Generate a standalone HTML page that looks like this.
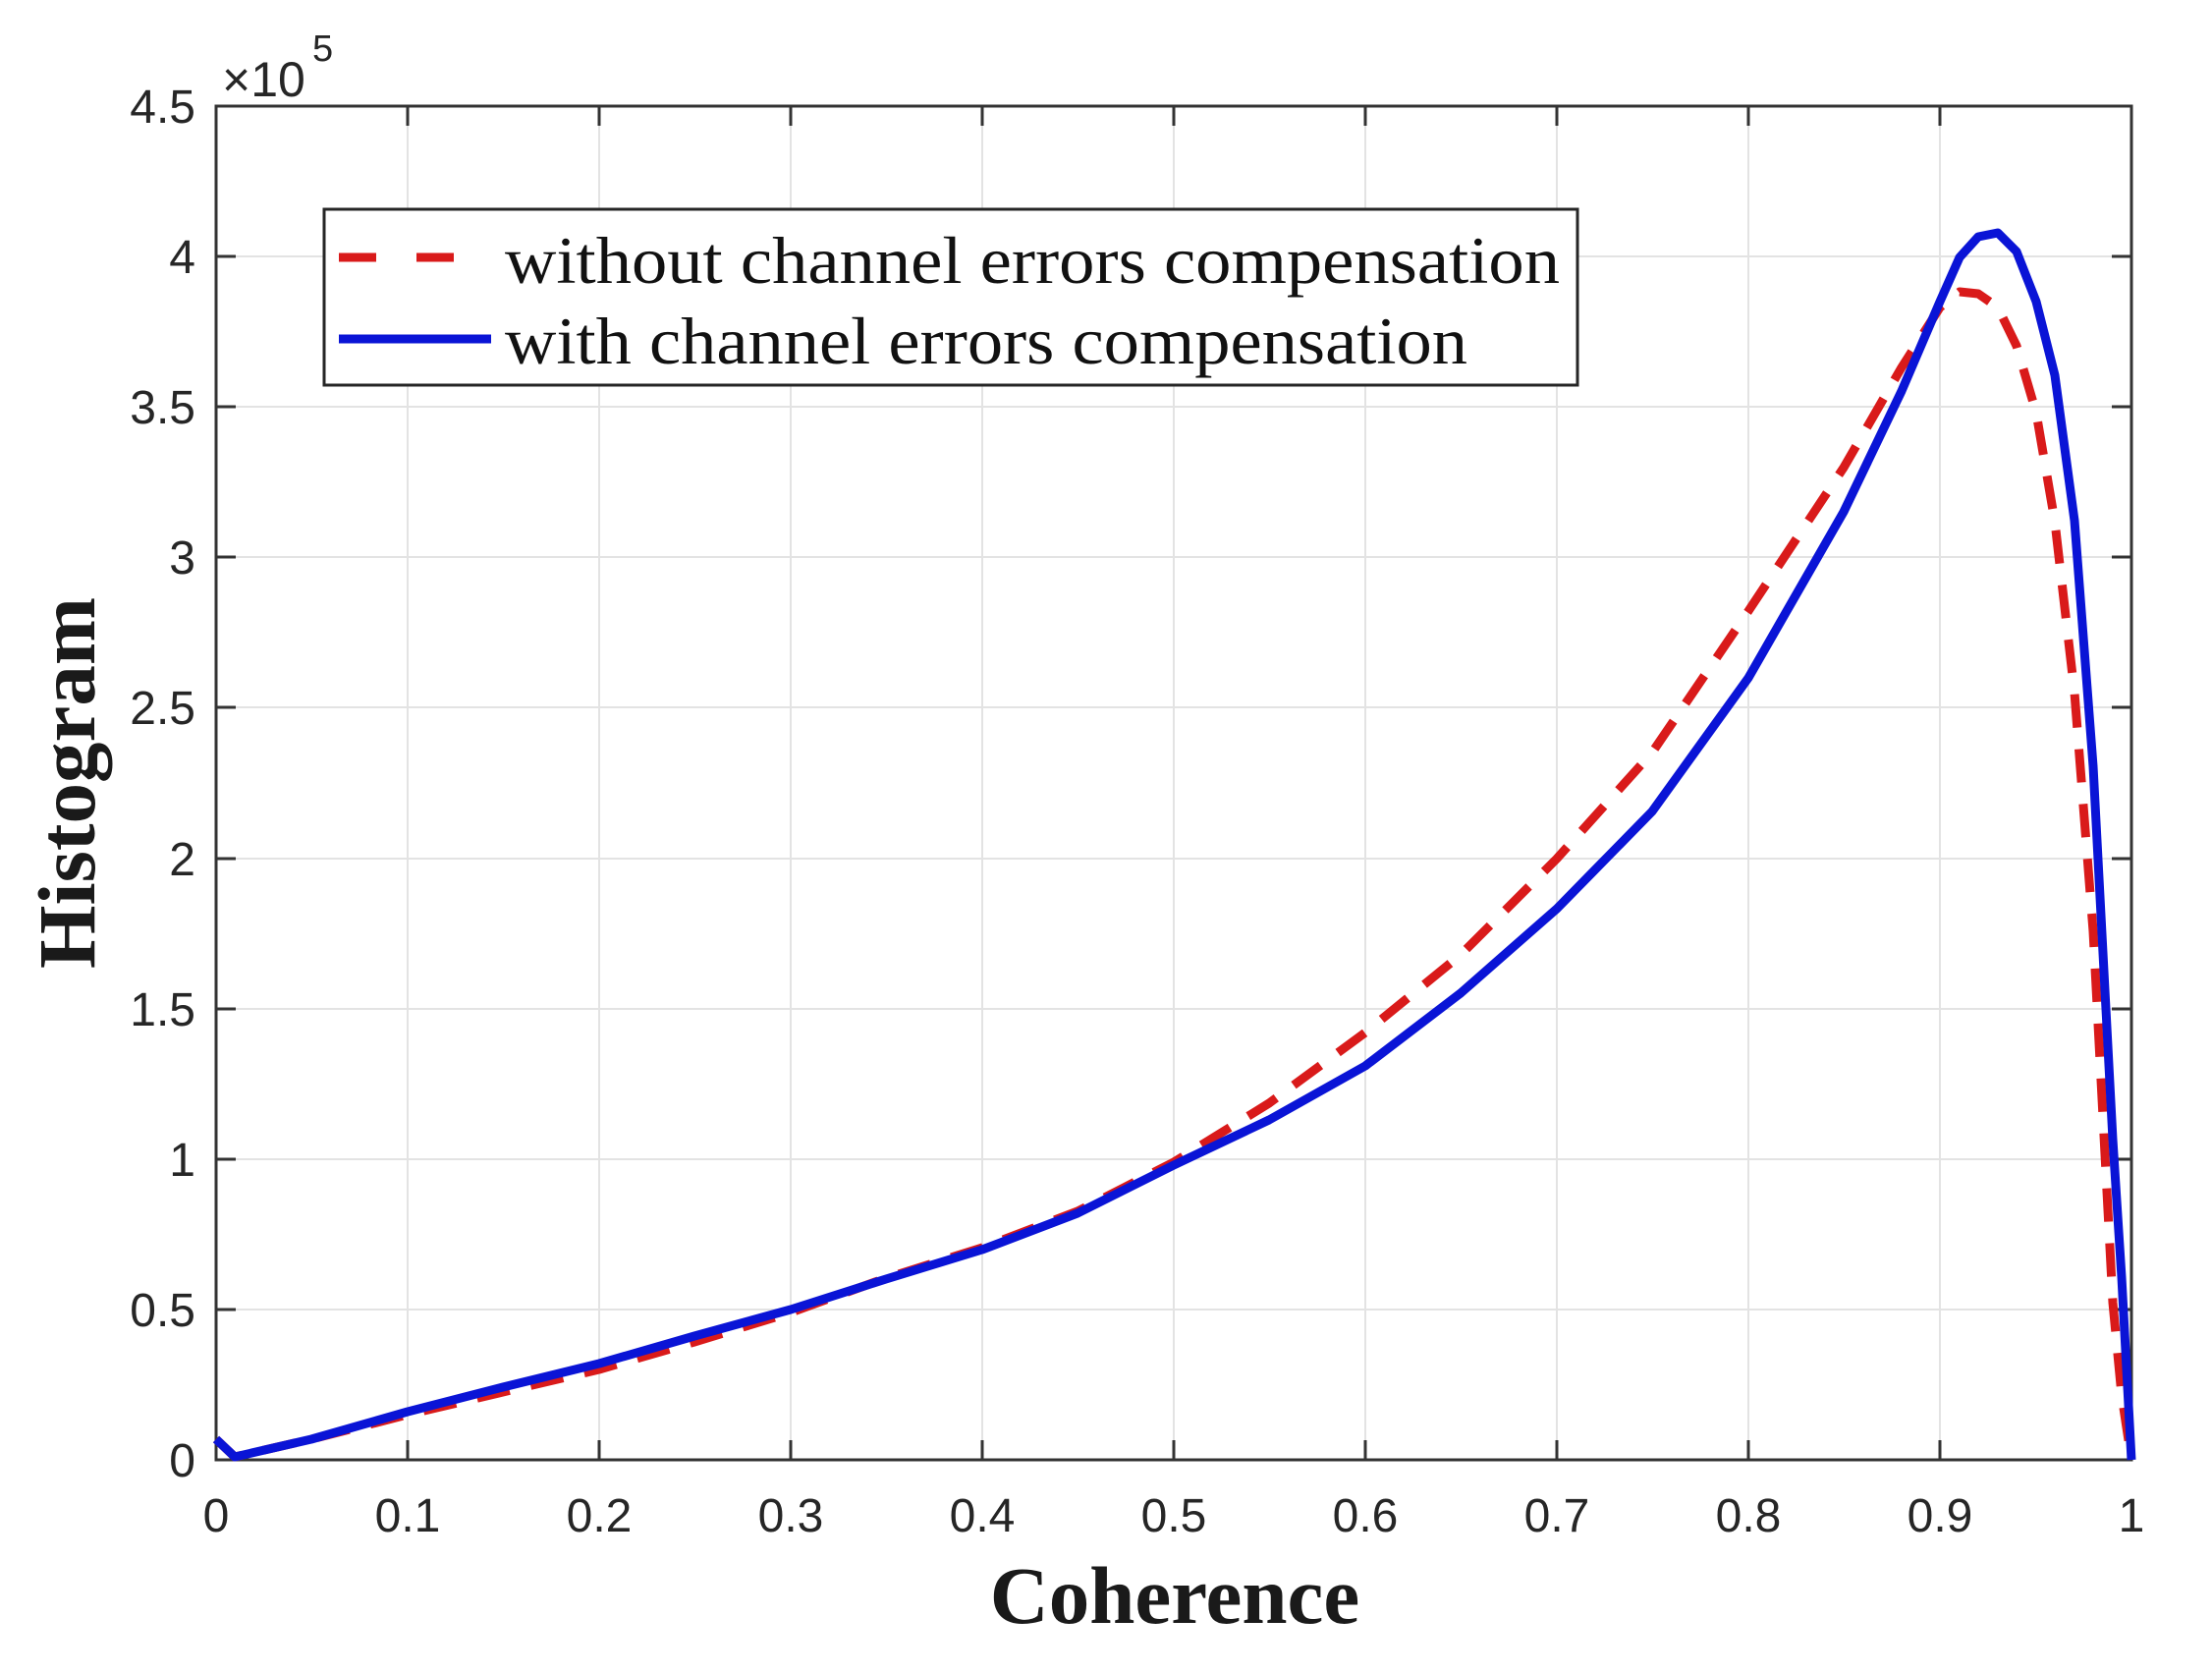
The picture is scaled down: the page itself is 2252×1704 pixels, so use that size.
<!DOCTYPE html>
<html><head><meta charset="utf-8"><style>html,body{margin:0;padding:0;background:#fff}svg{display:block}</style></head>
<body>
<svg width="2252" height="1704" viewBox="0 0 2252 1704" xmlns="http://www.w3.org/2000/svg">
<rect width="2252" height="1704" fill="#fff"/>
<g stroke="#e3e3e3" stroke-width="2">
<line x1="415" y1="108" x2="415" y2="1486"/><line x1="610" y1="108" x2="610" y2="1486"/><line x1="805" y1="108" x2="805" y2="1486"/><line x1="1000" y1="108" x2="1000" y2="1486"/><line x1="1195" y1="108" x2="1195" y2="1486"/><line x1="1390" y1="108" x2="1390" y2="1486"/><line x1="1585" y1="108" x2="1585" y2="1486"/><line x1="1780" y1="108" x2="1780" y2="1486"/><line x1="1975" y1="108" x2="1975" y2="1486"/>
<line x1="220" y1="1333" x2="2170" y2="1333"/><line x1="220" y1="1180" x2="2170" y2="1180"/><line x1="220" y1="1027" x2="2170" y2="1027"/><line x1="220" y1="874" x2="2170" y2="874"/><line x1="220" y1="720" x2="2170" y2="720"/><line x1="220" y1="567" x2="2170" y2="567"/><line x1="220" y1="414" x2="2170" y2="414"/><line x1="220" y1="261" x2="2170" y2="261"/>
</g>
<g stroke="#333" stroke-width="3">
<rect x="220" y="108" width="1950" height="1378" fill="none"/>
<path d="M415 1486v-20M610 1486v-20M805 1486v-20M1000 1486v-20M1195 1486v-20M1390 1486v-20M1585 1486v-20M1780 1486v-20M1975 1486v-20M415 108v20M610 108v20M805 108v20M1000 108v20M1195 108v20M1390 108v20M1585 108v20M1780 108v20M1975 108v20"/>
<path d="M220 1333h20M220 1180h20M220 1027h20M220 874h20M220 720h20M220 567h20M220 414h20M220 261h20M2170 1333h-20M2170 1180h-20M2170 1027h-20M2170 874h-20M2170 720h-20M2170 567h-20M2170 414h-20M2170 261h-20"/>
</g>
<g font-family="Liberation Sans, Arial, sans-serif" font-size="48" fill="#262626" text-anchor="end">
<text x="199" y="1503">0</text><text x="199" y="1350">0.5</text><text x="199" y="1197">1</text><text x="199" y="1044">1.5</text><text x="199" y="891">2</text><text x="199" y="737">2.5</text><text x="199" y="584">3</text><text x="199" y="431">3.5</text><text x="199" y="278">4</text><text x="199" y="125">4.5</text>
</g>
<g font-family="Liberation Sans, Arial, sans-serif" font-size="48" fill="#262626" text-anchor="middle">
<text x="220" y="1559">0</text><text x="415" y="1559">0.1</text><text x="610" y="1559">0.2</text><text x="805" y="1559">0.3</text><text x="1000" y="1559">0.4</text><text x="1195" y="1559">0.5</text><text x="1390" y="1559">0.6</text><text x="1585" y="1559">0.7</text><text x="1780" y="1559">0.8</text><text x="1975" y="1559">0.9</text><text x="2170" y="1559">1</text>
</g>
<text x="226" y="98" font-family="Liberation Sans, Arial, sans-serif" font-size="50" fill="#262626">×10</text>
<text x="318" y="62" font-family="Liberation Sans, Arial, sans-serif" font-size="38" fill="#262626">5</text>
<text x="1196" y="1652" font-family="Liberation Serif, serif" font-weight="bold" font-size="83" fill="#1a1a1a" text-anchor="middle">Coherence</text>
<text transform="translate(96,797) rotate(-90)" font-family="Liberation Serif, serif" font-weight="bold" font-size="83" fill="#1a1a1a" text-anchor="middle">Histogram</text>
<g fill="none" stroke-linejoin="round">
<polyline stroke="#d91a1a" stroke-width="9" stroke-dasharray="34 22" points="220,1465 239,1483 317,1465 415,1440 512,1417 610,1394 707,1366 805,1336 902,1301 1000,1270 1097,1233 1195,1183 1292,1123 1390,1051 1487,972 1585,874 1682,766 1780,622 1877,476 1936,374 1975,313 1995,297 2014,299 2034,313 2053,352 2073,420 2092,531 2112,705 2131,948 2151,1326 2160,1420 2170,1486"/>
<polyline stroke="#0a14d6" stroke-width="9" points="220,1465 239,1483 317,1465 415,1437 512,1412 610,1388 707,1360 805,1333 902,1302 1000,1272 1097,1235 1195,1186 1292,1140 1390,1085 1487,1011 1585,925 1682,826 1780,690 1877,521 1936,398 1975,307 1995,262 2014,241 2034,237 2053,256 2073,307 2092,382 2112,530 2131,780 2151,1160 2160,1300 2170,1486"/>
</g>
<rect x="330" y="213" width="1276" height="179" fill="#fff" stroke="#262626" stroke-width="3"/>
<line x1="345" y1="262" x2="465" y2="262" stroke="#d91a1a" stroke-width="9" stroke-dasharray="38 41"/>
<line x1="345" y1="345" x2="500" y2="345" stroke="#0a14d6" stroke-width="9"/>
<text x="514" y="288" font-family="Liberation Serif, serif" font-size="68" fill="#111" textLength="1074" lengthAdjust="spacingAndGlyphs">without channel errors compensation</text>
<text x="514" y="370" font-family="Liberation Serif, serif" font-size="68" fill="#111" textLength="980" lengthAdjust="spacingAndGlyphs">with channel errors compensation</text>
</svg>
</body></html>
